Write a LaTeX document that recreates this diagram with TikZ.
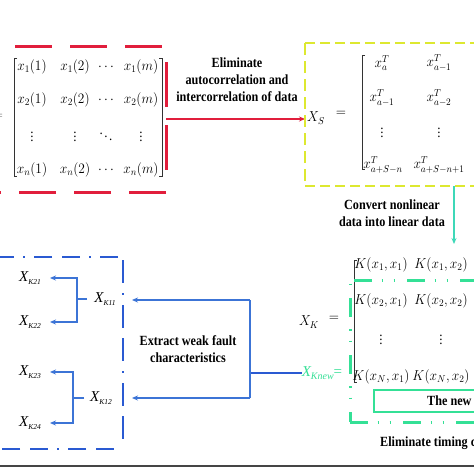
\documentclass[tikz,border=0pt]{standalone}
\usepackage{fontspec}
\setmainfont{Liberation Serif}
\usetikzlibrary{arrows.meta}
\definecolor{cred}{HTML}{E11E3C}
\definecolor{cyel}{HTML}{DDE830}
\definecolor{cteal}{HTML}{3ED8B8}
\definecolor{cgreen}{HTML}{34E096}
\definecolor{cblue}{HTML}{2A5AD2}
\definecolor{cblue2}{HTML}{3C74D6}
\definecolor{cgray}{HTML}{454545}
\begin{document}
\begin{tikzpicture}[x=1pt,y=-1pt,
  lbl/.style={font=\bfseries\fontsize{14}{17}\selectfont, align=center, xscale=0.87, inner sep=0pt},
  mth/.style={font=\fontsize{14}{17}\selectfont, inner sep=0pt, xscale=0.93},
  kx/.style={font=\fontsize{15}{17}\selectfont\itshape, inner sep=0pt},
  brk/.style={line width=0.9pt, black!80},
  tip/.style={-{Stealth[length=6pt,width=5pt]}},
  redH/.style={cred, line width=3pt, dash pattern=on 37pt off 18pt},
  redV/.style={cred, line width=3pt, dash pattern=on 45pt off 18pt},
  yelH/.style={cyel, line width=2.6pt, dash pattern=on 10pt off 5pt},
  yelV/.style={cyel, line width=2.6pt, dash pattern=on 12pt off 6pt},
  bluH/.style={cblue, line width=2.6pt, dash pattern=on 18pt off 9.5pt on 18pt off 9.5pt on 1.5pt off 9.5pt},
  bluV/.style={cblue, line width=2.6pt, dash pattern=on 23pt off 10pt on 23pt off 10pt on 1.5pt off 10.5pt},
  grnH/.style={cgreen, line width=3pt, dash pattern=on 18pt off 9.5pt on 1.5pt off 10.5pt on 1.5pt off 12pt},
  grnV/.style={cgreen, line width=3pt, dash pattern=on 19pt off 12pt on 1.5pt off 10pt on 1.5pt off 13pt},
  thinblue/.style={cblue2, line width=1.1pt},
]
\useasboundingbox (0,0) rectangle (474,474);
\clip (0,0) rectangle (474,474);
\fill[white] (0,0) rectangle (474,474);

% ---------- red box with first matrix ----------
\draw[redH] (-40,46) -- (166,46);
\draw[redV] (166,62) -- (166,175);
\draw[redH] (166,192) -- (-40,192);
\node[mth, text=black!60] (eq0) at (-2,117) {$=$};
\draw[brk] (17,58) -- (14,58) -- (14,176) -- (17,176);
\draw[brk] (159,58) -- (162,58) -- (162,176) -- (159,176);
\node[mth] (m11) at (32,67) {$x_1(1)$};
\node[mth] (m12) at (75,67) {$x_1(2)$};
\node[mth] (m13) at (106,67) {$\cdots$};
\node[mth] (m14) at (141,67) {$x_1(m)$};
\node[mth] (m21) at (32,100) {$x_2(1)$};
\node[mth] (m22) at (75,100) {$x_2(2)$};
\node[mth] (m23) at (106,100) {$\cdots$};
\node[mth] (m24) at (141,100) {$x_2(m)$};
\node[mth] (m31) at (32,134) {$\vdots$};
\node[mth] (m32) at (75,134) {$\vdots$};
\node[mth] (m33) at (106,134) {$\ddots$};
\node[mth] (m34) at (141,134) {$\vdots$};
\node[mth] (m41) at (32,170) {$x_n(1)$};
\node[mth] (m42) at (75,170) {$x_n(2)$};
\node[mth] (m43) at (106,170) {$\cdots$};
\node[mth] (m44) at (141,170) {$x_n(m)$};
\coordinate (redR) at (166,119);

% ---------- label 1 and red arrow ----------
\node[lbl] (t1) at (237,80) {Eliminate\\autocorrelation and\\intercorrelation of data};
\coordinate (yelL) at (305,119);
\draw[cred, line width=1.2pt, tip] (redR) -- (yelL);

% ---------- yellow box with X_S ----------
\draw[yelH] (305,43) -- (480,43);
\draw[yelV] (305,43) -- (305,186);
\draw[yelH] (305,186) -- (480,186);
\node[mth] (xs) at (316,118) {$X_S$};
\node[mth] (xseq) at (341,114) {$=$};
\draw[brk] (365,55) -- (362,55) -- (362,169) -- (365,169);
\node[mth] (s11) at (382,63) {$x_a^T$};
\node[mth] (s12) at (439,63) {$x_{a-1}^T$};
\node[mth] (s21) at (382,98) {$x_{a-1}^T$};
\node[mth] (s22) at (439,98) {$x_{a-2}^T$};
\node[mth] (s31) at (382,130) {$\vdots$};
\node[mth] (s32) at (439,130) {$\vdots$};
\node[mth] (s41) at (383,165) {$x_{a+S-n}^T$};
\node[mth] (s42) at (439,165) {$x_{a+S-n+1}^T$};

% ---------- teal arrow ----------
\coordinate (yelB) at (454,186);
\coordinate (kTop) at (454,244);
\draw[cteal, line width=1.2pt, tip] (yelB) -- (kTop);
\node[lbl] (t2) at (392,213) {Convert nonlinear\\data into linear data};

% ---------- X_K matrix and green box ----------
\node[mth] (xk) at (309,322) {$X_K$};
\node[mth] (xkeq) at (334,319) {$=$};
\draw[brk] (357,260) -- (354,260) -- (354,382) -- (357,382);
\node[mth] (k11m) at (381,265) {$K(x_1,x_1)$};
\node[mth] (k12m) at (441,265) {$K(x_1,x_2)$};
\node[mth] (k21m) at (381,301) {$K(x_2,x_1)$};
\node[mth] (k22m) at (441,301) {$K(x_2,x_2)$};
\node[mth] (k31m) at (381,337) {$\vdots$};
\node[mth] (k32m) at (441,337) {$\vdots$};
\node[mth] (k41m) at (381,377) {$K(x_N,x_1)$};
\node[mth] (k42m) at (441,377) {$K(x_N,x_2)$};
\draw[grnH, dash phase=49pt] (350,280) -- (480,280);
\draw[grnV, dash phase=39pt] (350,280) -- (350,422);
\draw[grnH] (350,422) -- (480,422);
\draw[cgreen, line width=1.3pt] (374,390) rectangle (520,412);
\node[lbl, anchor=west] (tnew) at (427,401) {The new covariance matrix};
\node[kx, text=cgreen] (xknew) at (322,373) {X\raisebox{-0.35ex}{\fontsize{10}{10}\selectfont Knew}\upshape=};
\node[lbl, anchor=west] (t4) at (380,443) {Eliminate timing correlation};

% ---------- blue connectors ----------
\coordinate (bj) at (250,373);
\coordinate (bt) at (250,300);
\coordinate (bb) at (250,398);
\coordinate (at1) at (132,300);
\coordinate (at2) at (132,398);
\draw[cblue, line width=2pt] (xknew.west) -- (bj);
\draw[thinblue] (bt) -- (bb);
\draw[thinblue, tip] (bt) -- (at1);
\draw[thinblue, tip] (bb) -- (at2);
\node[lbl] (t3) at (188,349) {Extract weak fault\\characteristics};

% ---------- blue box ----------
\draw[bluH, dash phase=22.5pt] (123,257) -- (-10,257);
\draw[bluV, dash phase=30pt] (123,257) -- (123,449);
\draw[bluH, dash phase=56.5pt] (123,449) -- (-10,449);
\node[kx] (k21) at (30,278) {X\raisebox{-0.35ex}{\fontsize{7.5}{8}\selectfont K21}};
\node[kx] (k22) at (30,322) {X\raisebox{-0.35ex}{\fontsize{7.5}{8}\selectfont K22}};
\node[kx] (k11) at (105,299) {X\raisebox{-0.35ex}{\fontsize{7.5}{8}\selectfont K11}};
\node[kx] (k23) at (30,372) {X\raisebox{-0.35ex}{\fontsize{7.5}{8}\selectfont K23}};
\node[kx] (k24) at (30,423) {X\raisebox{-0.35ex}{\fontsize{7.5}{8}\selectfont K24}};
\node[kx] (k12) at (101,398) {X\raisebox{-0.35ex}{\fontsize{7.5}{8}\selectfont K12}};
\coordinate (j1) at (77,299);
\coordinate (j1s) at (87,299);
\coordinate (a21) at (50,278);
\coordinate (a22) at (50,322);
\coordinate (j2) at (73,398);
\coordinate (j2s) at (84,398);
\coordinate (a23) at (50,372);
\coordinate (a24) at (50,423);
\draw[thinblue] (j1s) -- (j1);
\draw[thinblue, tip] (j1) |- (a21);
\draw[thinblue, tip] (j1) |- (a22);
\draw[thinblue] (j2s) -- (j2);
\draw[thinblue, tip] (j2) |- (a23);
\draw[thinblue, tip] (j2) |- (a24);

% ---------- bottom rule ----------
\coordinate (gl) at (0,466);
\coordinate (gr) at (474,466);
\draw[cgray, line width=2.2pt] (gl) -- (gr);
\end{tikzpicture}
\end{document}
